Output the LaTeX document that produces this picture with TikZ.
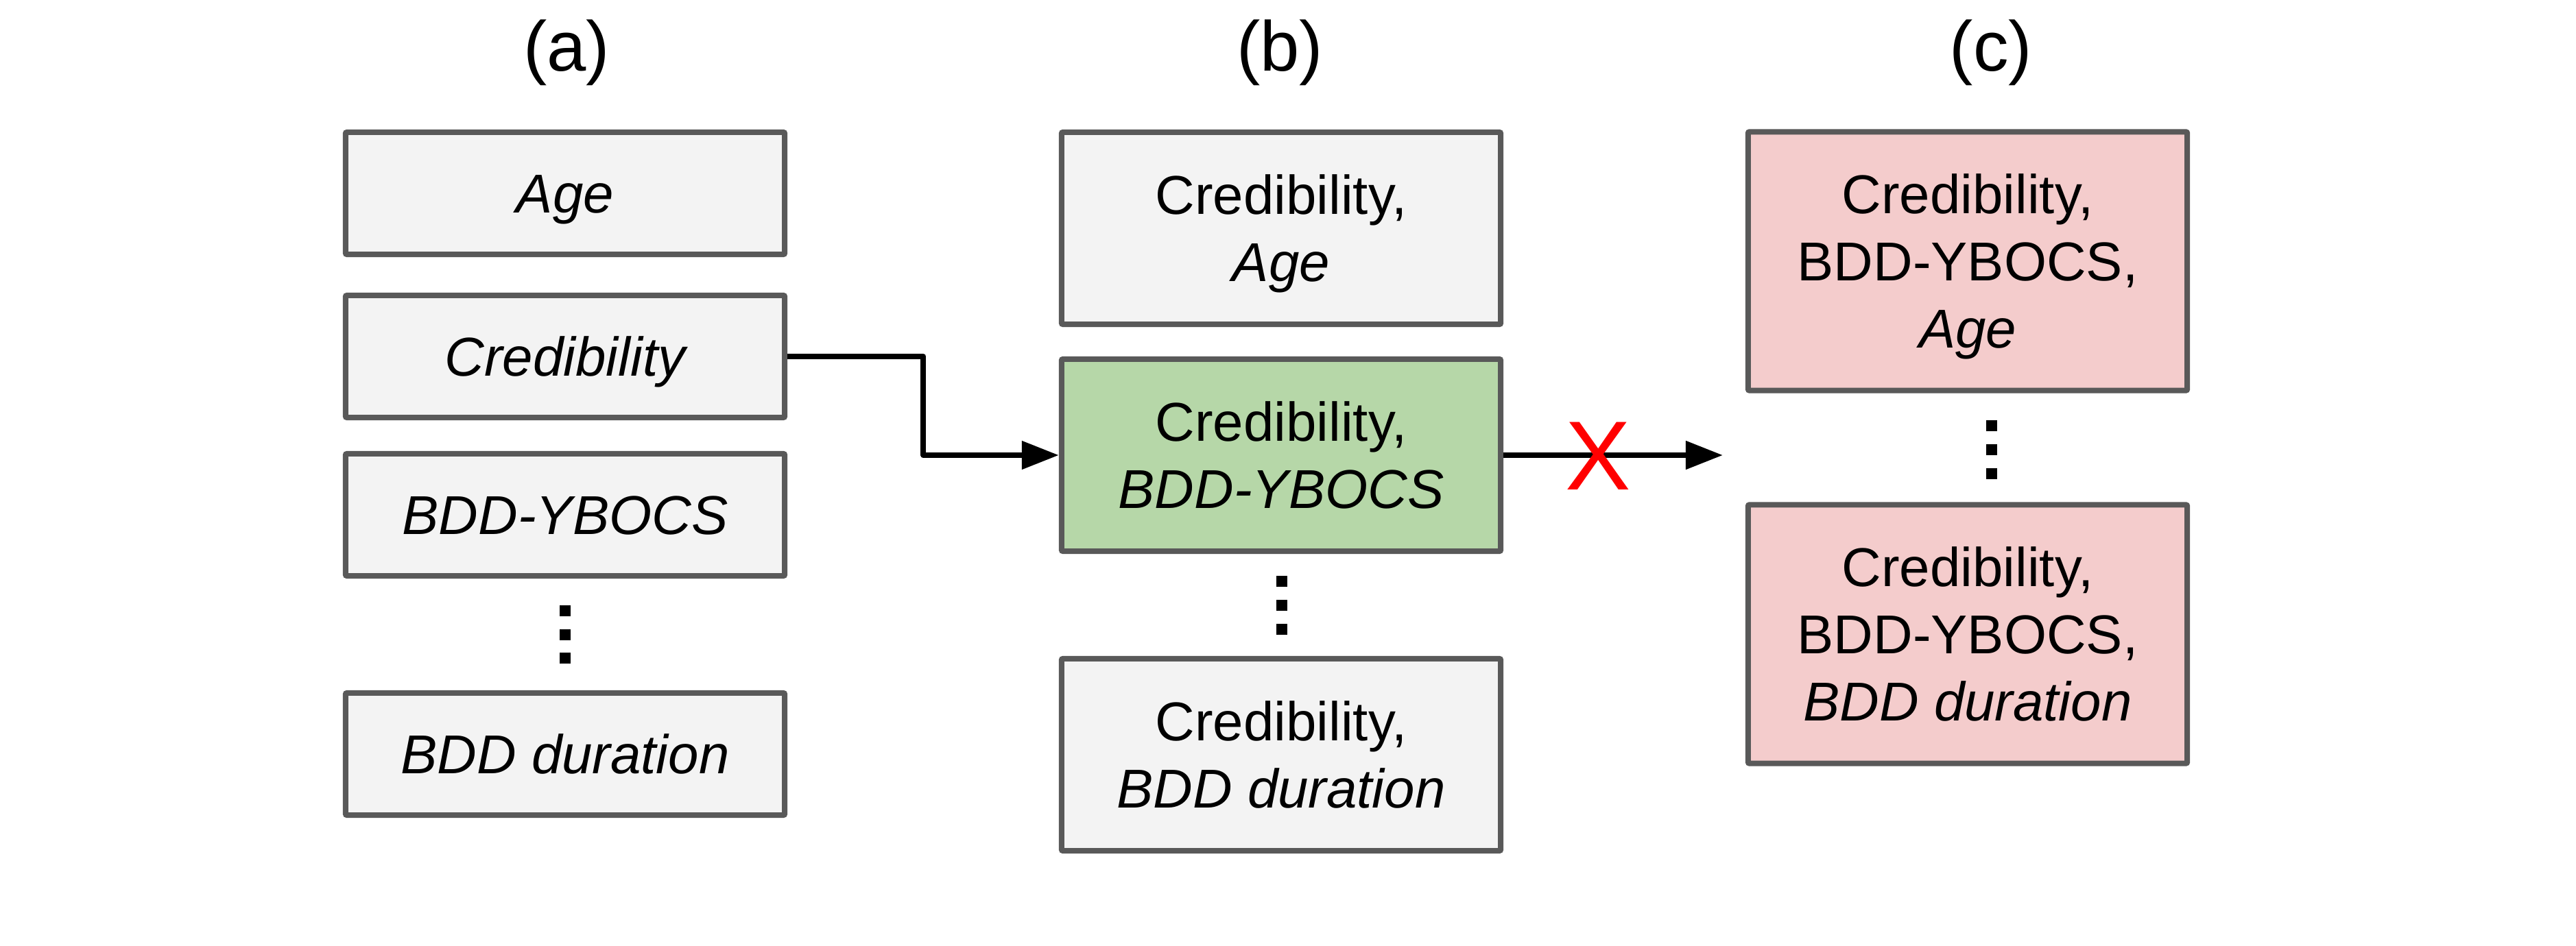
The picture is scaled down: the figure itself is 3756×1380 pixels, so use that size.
\documentclass[tikz,border=0pt]{standalone}
\usepackage{fontspec}
\setmainfont{Liberation Sans}
\usetikzlibrary{arrows.meta}
\definecolor{boxgray}{HTML}{F3F3F3}
\definecolor{boxedge}{HTML}{595959}
\definecolor{boxgreen}{HTML}{B6D7A8}
\definecolor{boxpink}{HTML}{F4CCCC}
\newcommand\toprl{\rule{0pt}{0.74cm}}
\newcommand\botrl{\rule[-0.17cm]{0pt}{0.17cm}}
\begin{document}
\begin{tikzpicture}[x=0.01cm,y=-0.01cm,
  box/.style={draw=boxedge, line width=0.08cm, rounded corners=0.02cm,
    minimum width=6.40cm, inner sep=0pt, align=center,
    font=\fontsize{22.7}{28}\selectfont},
  boxa/.style={box, fill=boxgray, minimum height=1.78cm},
  boxb/.style={box, minimum height=2.80cm},
  boxc/.style={box, fill=boxpink, minimum height=3.77cm},
  dotsq/.style={fill=black, minimum size=0.16cm, inner sep=0pt},
  lbl/.style={font=\fontsize{29.3}{35}\selectfont},
  conn/.style={draw=black, line width=0.08cm, line join=round,
    -{Triangle[length=0.54cm,width=0.40cm]}}]
\useasboundingbox (0,0) rectangle (3756,1380);

% labels
\node[lbl] (la) at (826,77) {(a)};
\node[lbl] (lb) at (1866,77) {(b)};
\node[lbl] (lc) at (2903,77) {(c)};

% column (a)
\node[boxa] (age) at (824,282) {\toprl\itshape Age\botrl};
\node[boxa] (cred) at (824,520) {\toprl\itshape Credibility\botrl};
\node[boxa] (ybocs) at (824,751) {\toprl\itshape BDD-YBOCS\botrl};
\node[boxa] (dur) at (824,1100) {\toprl\itshape BDD duration\botrl};
\node[dotsq] (da1) at (824,891) {};
\node[dotsq] (da2) at (824,926) {};
\node[dotsq] (da3) at (824,960) {};

% column (b)
\node[boxb, fill=boxgray] (bage) at (1868,333) {\toprl Credibility,\\\itshape Age\botrl};
\node[boxb, fill=boxgreen] (green) at (1868,664) {\toprl Credibility,\\\itshape BDD-YBOCS\botrl};
\node[boxb, fill=boxgray] (bdur) at (1868,1101) {\toprl Credibility,\\\itshape BDD duration\botrl};
\node[dotsq] (db1) at (1869,848) {};
\node[dotsq] (db2) at (1869,883) {};
\node[dotsq] (db3) at (1869,918) {};

% column (c)
\node[boxc] (cage) at (2869,381) {\toprl Credibility,\\BDD-YBOCS,\\\itshape Age\botrl};
\node[boxc] (cdur) at (2869,925) {\toprl Credibility,\\BDD-YBOCS,\\\itshape BDD duration\botrl};
\node[dotsq] (dc1) at (2904,621) {};
\node[dotsq] (dc2) at (2904,656) {};
\node[dotsq] (dc3) at (2904,691) {};

% connectors
\draw[conn] (cred.east) -- ++(1.98cm,0) |- (green.west);
\coordinate (cend) at (2512,664);
\draw[conn] (green.east) -- (green.east -| cend);
\node[text=red, font=\fontsize{40.7}{41}\selectfont, inner sep=0pt] (xmark) at (2330,665) {X};
\end{tikzpicture}
\end{document}
